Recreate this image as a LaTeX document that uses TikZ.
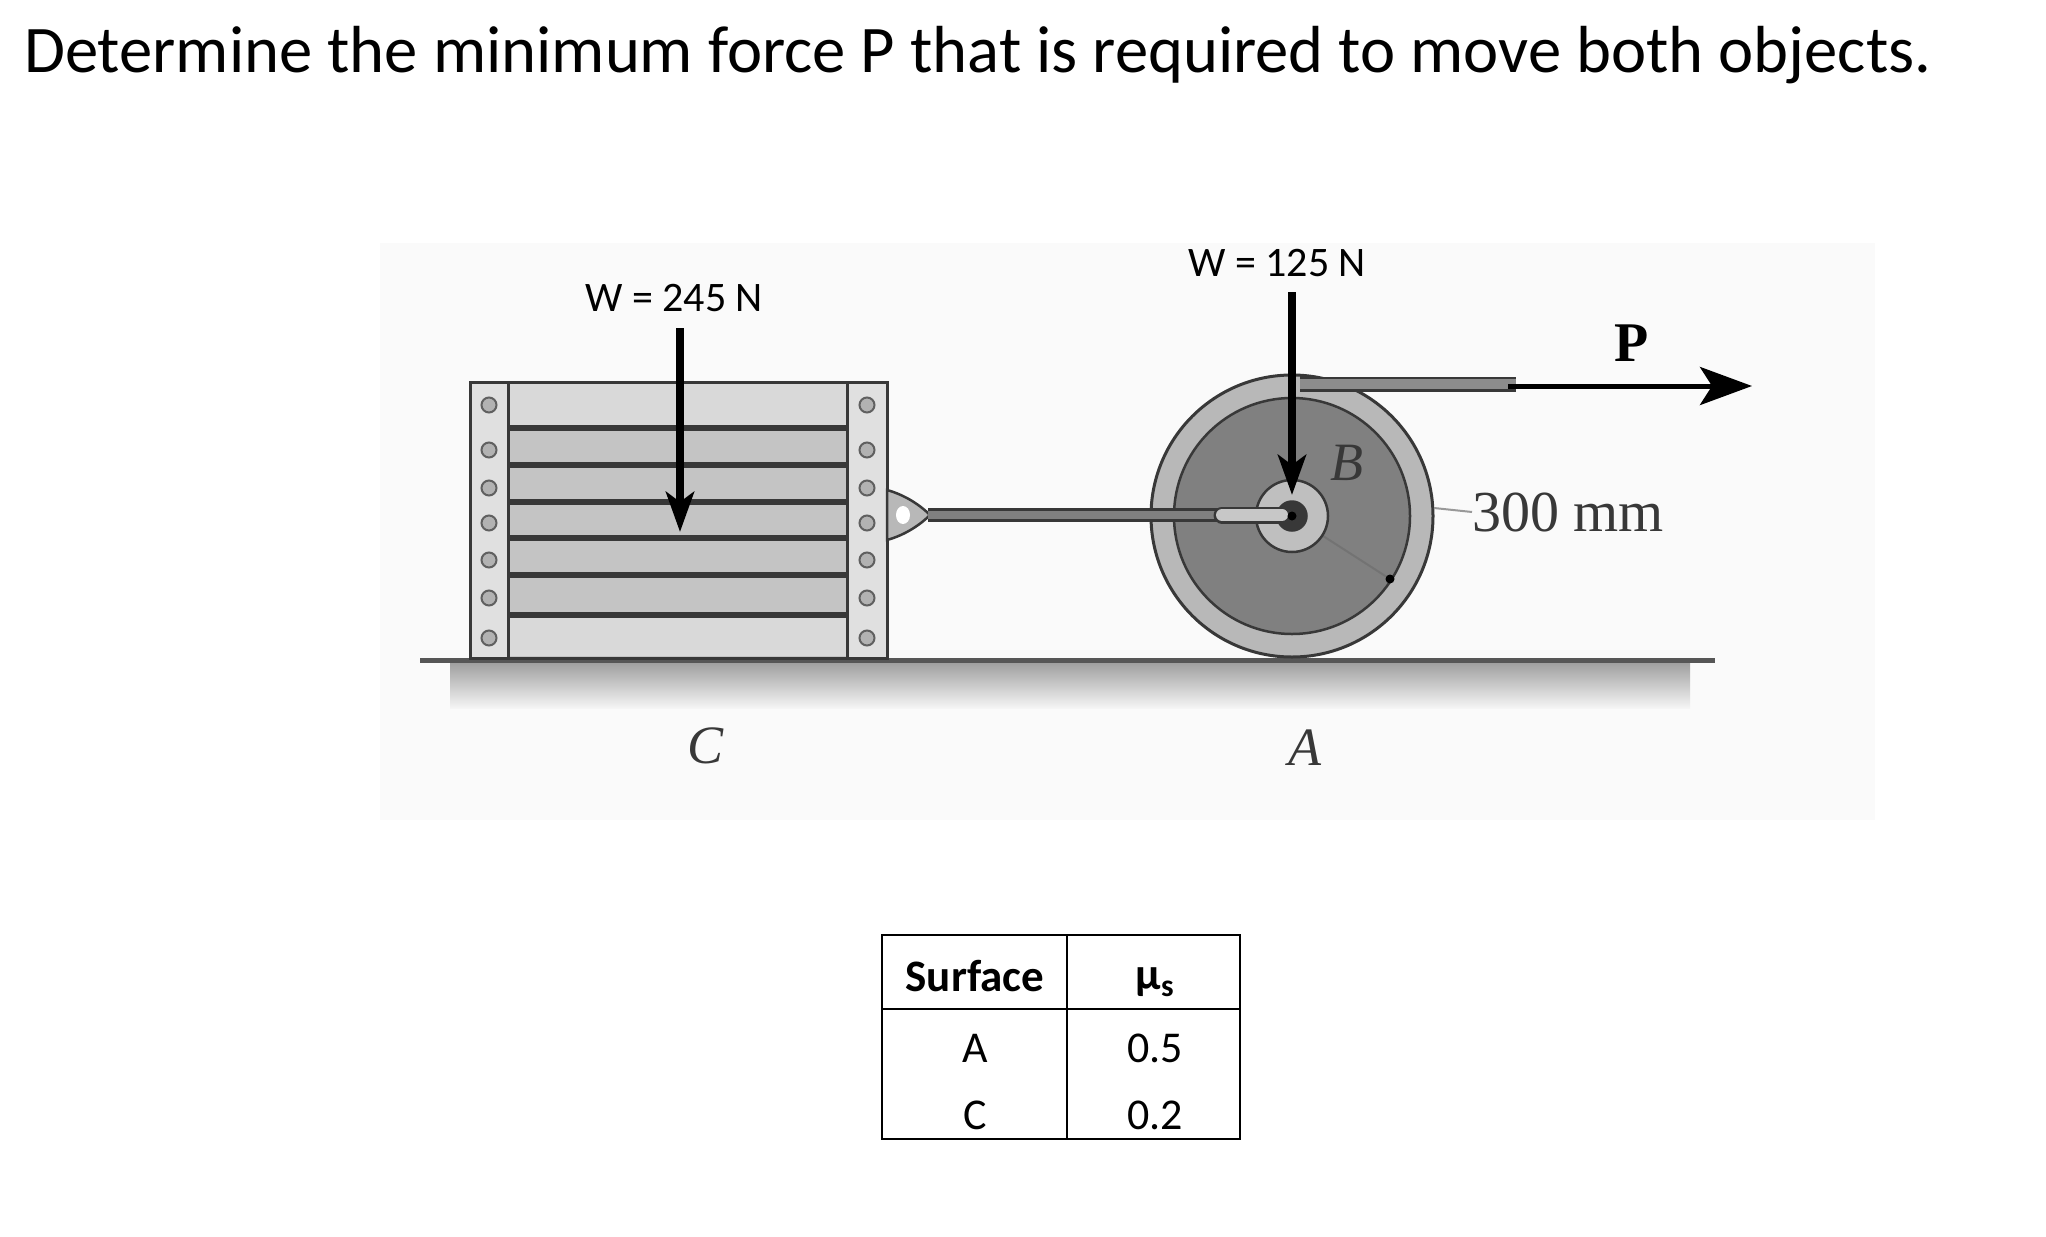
\documentclass[tikz,border=0pt]{standalone}
\usepackage{fontspec}
\setmainfont{Carlito}
\newfontfamily\seriffont{Liberation Serif}
\usetikzlibrary{arrows.meta,shadings}
\definecolor{rimgray}{gray}{0.72}
\definecolor{discgray}{gray}{0.50}
\definecolor{plankgray}{gray}{0.77}
\definecolor{plankpale}{gray}{0.85}
\definecolor{stripgray}{gray}{0.88}
\definecolor{darkline}{gray}{0.22}
\tikzset{
  lbl/.style={inner sep=0pt, font=\fontsize{42}{46}\selectfont},
  tbl/.style={inner sep=0pt, font=\fontsize{44}{48}\selectfont},
  fig/.style={inner sep=0pt, font=\seriffont\fontsize{58}{62}\selectfont},
  figit/.style={inner sep=0pt, font=\seriffont\itshape\fontsize{54}{58}\selectfont, text=darkline},
  weight/.style={line width=8pt, -{Stealth[length=40pt,width=28pt,inset=10pt]}},
  plankline/.style={line width=6pt, draw=darkline},
  bolt/.style={circle, draw=darkline!80, line width=2pt, fill=black!30, minimum size=15pt, inner sep=0pt},
}
\begin{document}
\begin{tikzpicture}[x=1pt,y=-1pt]
\useasboundingbox (0,0) rectangle (2046,1237);
% faint background of the figure
\fill[black!2] (380,243) rectangle (1875,820);
% title
\node[anchor=base west, inner sep=0pt, font=\fontsize{66.6}{72}\selectfont] (title) at (24,72)
  {Determine the minimum force P that is required to move both objects.};
% ground shadow and line
\shade[top color=black!38, bottom color=black!4] (450,662) rectangle (1690,708);
\coordinate (g1) at (420,660);
\coordinate (g2) at (1715,660);
\draw[line width=5pt, darkline!85] (g1) -- (g2);
% crate C
\fill[plankgray] (470,382) rectangle (887,658);
\fill[plankpale] (508,384) rectangle (847,428);
\fill[plankpale] (508,615) rectangle (847,656);
\fill[stripgray] (470,382) rectangle (508,658);
\fill[stripgray] (847,382) rectangle (887,658);
\foreach \yy in {428,465,502,538,575,615}
  \draw[plankline] (508,\yy) -- (847,\yy);
\draw[line width=3pt, darkline] (470,382) rectangle (887,658);
\draw[line width=3pt, darkline] (508,382) -- (508,658);
\draw[line width=3pt, darkline] (847,382) -- (847,658);
\foreach \yy [count=\i] in {405,450,488,523,560,598,638} {
  \node[bolt] (bl\i) at (489,\yy) {};
  \node[bolt] (br\i) at (867,\yy) {};
}
% hook eye
\filldraw[fill=rimgray, draw=darkline, line width=2.5pt]
  (887,490) .. controls (905,495) and (920,505) .. (930,515)
  .. controls (920,525) and (905,535) .. (887,540) -- cycle;
\fill[white] (903,515) ellipse (7 and 9);
% wheel
\coordinate (B) at (1292,516);
\filldraw[fill=rimgray, draw=darkline, line width=3pt] (B) circle (141);
\filldraw[fill=discgray, draw=darkline, line width=2.5pt] (B) circle (118);
\draw[line width=2pt, black!55] (B) -- (1390,579);
\fill[black] (1390,579) circle (4.5);
% rod
\coordinate (rodA) at (928,515);
\coordinate (rodB) at (1226,515);
\draw[line width=14pt, darkline] (rodA) -- (rodB);
\draw[line width=8pt, black!50] (rodA) -- (rodB);
% hub
\filldraw[fill=black!25, draw=darkline, line width=2.5pt] (B) circle (36);
\filldraw[fill=black!78!white, draw=darkline, line width=1.5pt] (B) circle (15);
\draw[line width=17pt, darkline, line cap=round] (1222,515) -- (1282,515);
\draw[line width=12pt, black!22, line cap=round] (1222,515) -- (1282,515);
\fill[black] (B) circle (4.5);
% rope and P
\coordinate (r1) at (1300,384);
\coordinate (r2) at (1516,384);
\coordinate (ptip) at (1752,386);
\draw[line width=15pt, darkline] (r1) -- (r2);
\draw[line width=10pt, black!45] (r1) -- (r2);
\draw[line width=5pt, -{Stealth[length=52pt,width=38pt,inset=12pt]}] (1508,386) -- (ptip);
\node[inner sep=0pt, font=\seriffont\bfseries\fontsize{56}{60}\selectfont] (P) at (1632,343) {P};
% weights
\node[lbl, anchor=base] (wC) at (674,311) {W = 245 N};
\coordinate (wC1) at (680,328);
\coordinate (wC2) at (680,532);
\draw[weight] (wC1) -- (wC2);
\node[lbl, anchor=base] (wA) at (1277,276) {W = 125 N};
\coordinate (wA1) at (1292,292);
\coordinate (wA2) at (1292,495);
\draw[weight] (wA1) -- (wA2);
% labels
\node[figit] (Blab) at (1347,463) {B};
\coordinate (d1) at (1434,508);
\node[fig, anchor=west, text=darkline] (dim) at (1472,512) {300 mm};
\draw[line width=2pt, black!40] (d1) -- (dim.west);
\node[figit] (Alab) at (1305,748) {A};
\node[figit] (Clab) at (706,746) {C};
% table
\draw[line width=2.5pt] (882,935) rectangle (1240,1139);
\draw[line width=2.5pt] (1067,935) -- (1067,1139);
\draw[line width=2.5pt] (882,1009) -- (1240,1009);
\node[tbl, font=\bfseries\fontsize{45}{48}\selectfont] (hs) at (975,976) {Surface};
\node[tbl, font=\bfseries\fontsize{45}{48}\selectfont] (hm) at (1155,982) {μ\textsubscript{s}};
\node[tbl] (sa) at (975,1048) {A};
\node[tbl] (ma) at (1155,1048) {0.5};
\node[tbl] (sc) at (975,1115) {C};
\node[tbl] (mc) at (1155,1115) {0.2};
\end{tikzpicture}
\end{document}
